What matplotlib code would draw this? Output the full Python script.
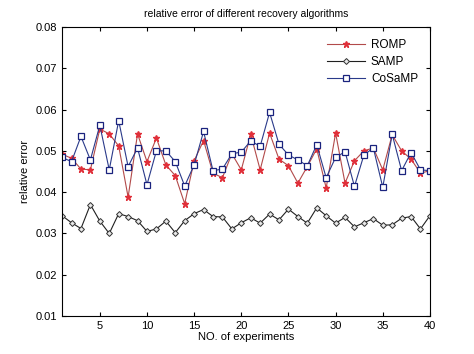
import numpy as np
import matplotlib.pyplot as plt

plt.rcParams['font.family'] = ['Liberation Sans', 'DejaVu Sans']

# --- data ---
experiments = np.arange(1, 41)

romp = [0.0492, 0.0482, 0.0456, 0.0454, 0.0553, 0.0541, 0.0512, 0.0388, 0.0541, 0.0474,
        0.0531, 0.0466, 0.0440, 0.0372, 0.0476, 0.0525, 0.0446, 0.0435, 0.0493, 0.0454,
        0.0540, 0.0454, 0.0543, 0.0480, 0.0464, 0.0422, 0.0462, 0.0505, 0.0410, 0.0543,
        0.0422, 0.0476, 0.0500, 0.0507, 0.0454, 0.0539, 0.0500, 0.0480, 0.0446, 0.0452]

samp = [0.0343, 0.0326, 0.0312, 0.0370, 0.0330, 0.0300, 0.0348, 0.0341, 0.0331, 0.0305,
        0.0311, 0.0330, 0.0302, 0.0331, 0.0348, 0.0358, 0.0341, 0.0340, 0.0311, 0.0326,
        0.0338, 0.0325, 0.0347, 0.0333, 0.0359, 0.0341, 0.0325, 0.0362, 0.0343, 0.0325,
        0.0339, 0.0316, 0.0326, 0.0336, 0.0320, 0.0321, 0.0337, 0.0341, 0.0311, 0.0343]

cosamp = [0.0484, 0.0474, 0.0535, 0.0478, 0.0562, 0.0454, 0.0573, 0.0462, 0.0507, 0.0418,
          0.0500, 0.0500, 0.0474, 0.0415, 0.0466, 0.0547, 0.0452, 0.0456, 0.0493, 0.0497,
          0.0524, 0.0511, 0.0593, 0.0516, 0.0490, 0.0478, 0.0464, 0.0515, 0.0435, 0.0484,
          0.0498, 0.0414, 0.0490, 0.0507, 0.0412, 0.0540, 0.0452, 0.0496, 0.0454, 0.0452]

xticks = [5, 10, 15, 20, 25, 30, 35, 40]
yticks = [0.01, 0.02, 0.03, 0.04, 0.05, 0.06, 0.07, 0.08]

# --- plot ---
fig = plt.figure(figsize=(4.74, 3.54), dpi=100)
ax = fig.add_axes([0.131, 0.107, 0.776, 0.817])

ax.plot(experiments, romp, '-', color='#b24a4a', lw=0.8, marker='*', ms=4.5,
        mfc='#e0303a', mec='#e0303a', label='ROMP')
ax.plot(experiments, samp, '-', color='#202020', lw=0.8, marker='D', ms=3,
        mfc='#e8e8e8', mec='#303030', mew=0.7, label='SAMP')
ax.plot(experiments, cosamp, '-', color='#2a3a8a', lw=0.8, marker='s', ms=4.2,
        mfc='white', mec='#1a237e', mew=0.9, label='CoSaMP')

ax.set_xlim(1, 40)
ax.set_ylim(0.01, 0.08)
ax.set_xticks(xticks)
ax.set_yticks(yticks)
ax.tick_params(direction='in', top=True, right=True, labelsize=8, length=3)
for s in ax.spines.values():
    s.set_linewidth(0.8)

ax.set_xlabel('NO. of experiments', fontsize=8, labelpad=1)
ax.set_ylabel('relative error', fontsize=8, labelpad=4)
ax.set_title('relative error of different recovery algorithms', fontsize=7.5, pad=7)

ax.legend(loc='upper right', frameon=False, fontsize=8.5, handlelength=3.2,
          handletextpad=0.5, labelspacing=0.45, borderaxespad=0.6)

fig.savefig('out.png', dpi=100)
